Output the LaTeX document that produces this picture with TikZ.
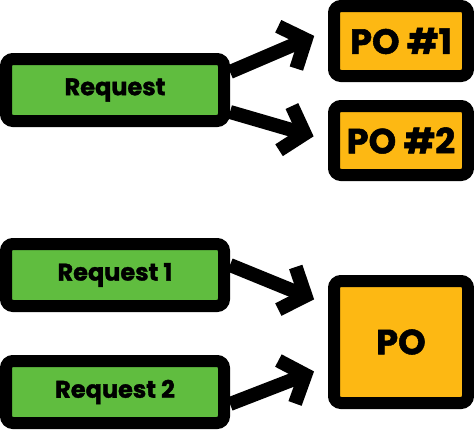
\documentclass[tikz,border=0pt]{standalone}
\usepackage{fontspec}
\setmainfont{Poppins}[BoldFeatures={FakeBold=1.5}]
\usetikzlibrary{arrows.meta}

\definecolor{reqgreen}{RGB}{96,189,63}
\definecolor{poorange}{RGB}{253,184,19}

\tikzset{
    box/.style={draw=black, line width=12pt, rounded corners=7pt, inner sep=0pt, font=\bfseries},
    reqbox/.style={box, fill=reqgreen, minimum width=218pt, minimum height=62pt, font=\bfseries\fontsize{24}{28}\selectfont},
    pobox/.style={box, fill=poorange, minimum width=134pt, font=\bfseries\fontsize{35}{40}\selectfont},
    flow/.style={line width=14pt, -{Straight Barb[length=20pt, width=46pt, line width=14pt, line join=miter, line cap=butt]}, shorten >=15pt},
}

\begin{document}
\begin{tikzpicture}[x=1pt, y=-1pt]
    \useasboundingbox (0,0) rectangle (474,429);
    % one request split into two orders
    \node[reqbox] (req) at (115, 90) {Request};
    \node[pobox, minimum height=70pt] (po1) at (401, 41) {PO \#1};
    \node[pobox, minimum height=69pt] (po2) at (401, 140.5) {PO \#2};
    % two requests merged into one order
    \node[reqbox] (req1) at (115, 275) {Request 1};
    \node[reqbox] (req2) at (115, 392) {Request 2};
    \node[pobox, minimum height=122pt] (po) at (401, 342) {PO};

    \draw[flow] ([yshift=18pt]req.east) -- ([yshift=11pt]po1.west);
    \draw[flow] ([yshift=-22pt]req.east) -- (po2.west);
    \draw[flow] ([yshift=10pt]req1.east) -- ([yshift=37pt]po.west);
    \draw[flow] ([yshift=-12pt]req2.east) -- ([yshift=-24pt]po.west);
\end{tikzpicture}
\end{document}
